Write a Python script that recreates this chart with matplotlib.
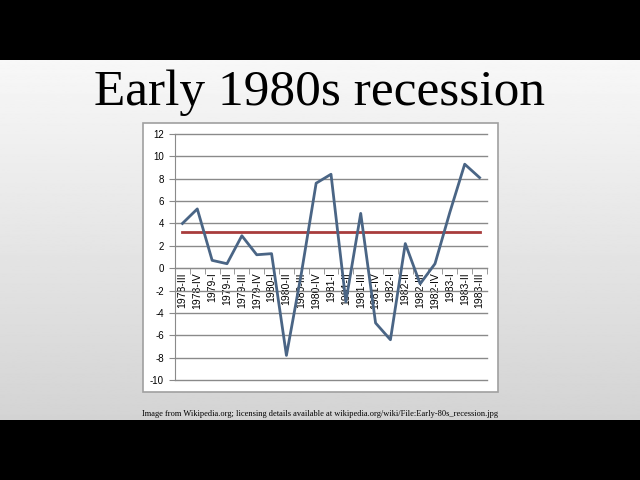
import numpy as np
import matplotlib.pyplot as plt
from matplotlib.patches import Rectangle

quarters = ["1978-III", "1978-IV", "1979-I", "1979-II", "1979-III", "1979-IV",
            "1980-I", "1980-II", "1980-III", "1980-IV", "1981-I", "1981-II",
            "1981-III", "1981-IV", "1982-I", "1982-II", "1982-III", "1982-IV",
            "1983-I", "1983-II", "1983-III"]
growth = [4.0, 5.3, 0.7, 0.4, 2.9, 1.2, 1.3, -7.8, -0.5, 7.6, 8.4, -3.0,
          4.9, -4.9, -6.4, 2.2, -1.4, 0.4, 5.0, 9.3, 8.1]
average = [3.25] * len(quarters)
y_ticks = list(range(-10, 13, 2))


def main():
    fig = plt.figure(figsize=(6.4, 4.8), dpi=100)
    fig.patch.set_facecolor("black")

    # slide background: light gradient between the black bars
    bg = fig.add_axes([0, 60 / 480, 1, 360 / 480])
    bg.axis("off")
    grad = np.linspace(0.97, 0.83, 256).reshape(-1, 1)
    bg.imshow(grad, aspect="auto", cmap="gray", vmin=0, vmax=1,
              extent=[0, 1, 0, 1])
    bg.set_xlim(0, 1)
    bg.set_ylim(0, 1)

    # chart frame
    fig.add_artist(Rectangle((143 / 640, 1 - 392 / 480), 355 / 640, 269 / 480,
                             transform=fig.transFigure, facecolor="white",
                             edgecolor="#a0a0a0", lw=1.2, zorder=1))

    fig.text(0.5, 1 - 93 / 480, "Early 1980s recession", ha="center", va="center",
             fontsize=37, family="Liberation Serif")
    fig.text(0.5, 1 - 414 / 480,
             "Image from Wikipedia.org; licensing details available at "
             "wikipedia.org/wiki/File:Early-80s_recession.jpg",
             ha="center", va="center", fontsize=6, family="Liberation Serif")

    ax = fig.add_axes([175 / 640, 1 - 380 / 480, 312 / 640, 246 / 480], zorder=2)
    ax.set_facecolor("none")
    ax.spines["bottom"].set_position(("data", 0))

    x = list(range(len(quarters)))
    ax.plot(x, growth, color="#4a6585", lw=2, zorder=3)
    ax.plot(x, average, color="#a83c3c", lw=2, zorder=2)

    ax.set_xlim(-0.5, len(quarters) - 0.5)
    ax.set_ylim(-10, 12)
    ax.set_yticks(y_ticks)
    ax.set_yticklabels([str(v) for v in y_ticks], fontsize=7,
                       family="Liberation Sans")
    ax.yaxis.grid(True, color="#8a8a8a", lw=1, clip_on=False)
    ax.set_axisbelow(True)

    ax.set_xticks(x)
    ax.set_xticklabels(quarters, fontsize=7.5, family="Liberation Sans")
    ax.set_xticks([i + 0.5 for i in range(-1, len(quarters))], minor=True)
    ax.tick_params(axis="x", which="major", length=0, pad=3, labelrotation=90)
    ax.tick_params(axis="x", which="minor", length=4, color="#8a8a8a")
    ax.tick_params(axis="y", length=4, color="#8a8a8a", pad=4)

    ax.spines["bottom"].set_color("#8a8a8a")
    ax.spines["left"].set_color("#8a8a8a")
    ax.spines["top"].set_visible(False)
    ax.spines["right"].set_visible(False)

    fig.savefig("out.png", dpi=100, facecolor=fig.get_facecolor())


if __name__ == "__main__":
    main()
